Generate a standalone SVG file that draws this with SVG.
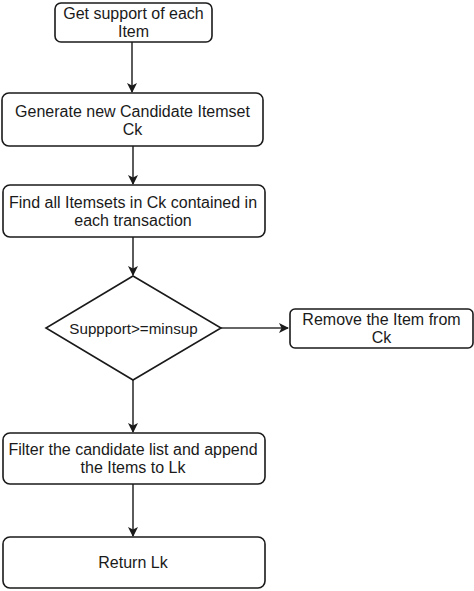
<svg xmlns="http://www.w3.org/2000/svg" width="474" height="591" viewBox="0 0 474 591">
<style>
.box{fill:#fff;stroke:#1a1a1a;stroke-width:1.6}
.t{font-family:"Liberation Sans",Arial,sans-serif;font-size:16px;fill:#1a1a1a;text-anchor:middle}
.c{stroke:#333;stroke-width:1.6;fill:none}
</style>
<defs>
<marker id="ah" markerWidth="10" markerHeight="10" refX="9" refY="5" orient="auto" markerUnits="userSpaceOnUse">
<path d="M0,0 L10,5 L0,10 L2.5,5 Z" fill="#1a1a1a"/>
</marker>
</defs>
<rect width="474" height="591" fill="#fff"/>
<g id="connectors">
<line class="c" x1="132" y1="42" x2="132" y2="92" marker-end="url(#ah)"/>
<line class="c" x1="133" y1="146" x2="133" y2="184" marker-end="url(#ah)"/>
<line class="c" x1="133" y1="237" x2="133" y2="275" marker-end="url(#ah)"/>
<line class="c" x1="221" y1="328" x2="288" y2="328" marker-end="url(#ah)"/>
<line class="c" x1="133" y1="379" x2="133" y2="432" marker-end="url(#ah)"/>
<line class="c" x1="133" y1="484" x2="133" y2="536" marker-end="url(#ah)"/>
</g>
<g id="n1">
<rect class="box" x="55" y="3" width="157" height="39" rx="6"/>
<text class="t" x="133.5" y="19">Get support of each</text>
<text class="t" x="133.5" y="37">Item</text>
</g>
<g id="n2">
<rect class="box" x="2" y="93" width="261" height="53" rx="7"/>
<text class="t" x="132.5" y="117">Generate new Candidate Itemset</text>
<text class="t" x="132.5" y="135">Ck</text>
</g>
<g id="n3">
<rect class="box" x="3" y="185" width="262" height="52" rx="7"/>
<text class="t" x="133" y="208">Find all Itemsets in Ck contained in</text>
<text class="t" x="133" y="226">each transaction</text>
</g>
<g id="n4">
<polygon class="box" points="133,276 221,328 133,380 46,328"/>
<text class="t" x="133.5" y="334" style="font-size:15.2px">Suppport&gt;=minsup</text>
</g>
<g id="n5">
<rect class="box" x="290" y="309" width="183" height="39" rx="5"/>
<text class="t" x="381.5" y="325">Remove the Item from</text>
<text class="t" x="381.5" y="343">Ck</text>
</g>
<g id="n6">
<rect class="box" x="3" y="433" width="262" height="51" rx="7"/>
<text class="t" x="133" y="455">Filter the candidate list and append</text>
<text class="t" x="133" y="473">the Items to Lk</text>
</g>
<g id="n7">
<rect class="box" x="3" y="537" width="262" height="51" rx="7"/>
<text class="t" x="133" y="568">Return Lk</text>
</g>
</svg>
